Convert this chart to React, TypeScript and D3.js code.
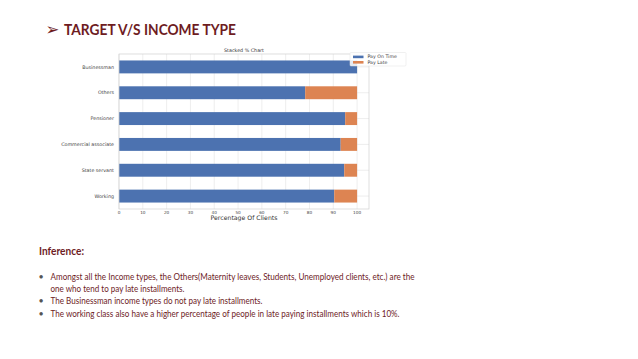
import React from 'react';
import * as d3 from 'd3';

// income types, top to bottom as drawn
const incomeTypes = ['Businessman', 'Others', 'Pensioner', 'Commercial associate', 'State servant', 'Working'];
const payOnTime = [100, 78.2, 95.0, 93.1, 94.6, 90.4];
const payLate = [0, 21.8, 5.0, 6.9, 5.4, 9.6];
const xTicks = [0, 10, 20, 30, 40, 50, 60, 70, 80, 90, 100];
const seriesNames = ['Pay On Time', 'Pay Late'];
const seriesColors = ['#4c72b0', '#dd8452'];

const bullets = [
  ['Amongst all the Income types, the Others(Maternity leaves, Students, Unemployed clients, etc.) are the',
    'one who tend to pay late installments.'],
  ['The Businessman income types do not pay late installments.'],
  ['The working class also have a higher percentage of people in late paying installments which is 10%.'],
];
// line widths in the slide (Calibri is narrower than the fonts we have)
const bulletWidths = [364, 134, 212, 349];

const W = 638;
const H = 359;
const plot = { left: 119, right: 369, top: 54, bottom: 209 };
const maroon = '#6e1c1f';
const mpl = "'DejaVu Sans', sans-serif";
const slideFont = "Lato, 'Open Sans', sans-serif";

export default function App() {
  const rows = incomeTypes.map((t, i) => ({ type: t, onTime: payOnTime[i], late: payLate[i] }));
  const stacked = d3.stack<any>().keys(['onTime', 'late'])(rows);

  const x = d3.scaleLinear().domain([0, 105]).range([plot.left, plot.right]);
  const y = d3.scaleBand().domain(incomeTypes).range([plot.top, plot.bottom]).paddingInner(0.5).paddingOuter(0.25);
  const band = d3.scaleBand().domain(incomeTypes).range([plot.top, plot.bottom]);

  let lineY = 279.5;
  const bulletLines: { text: string; y: number; first: boolean }[] = [];
  bullets.forEach((b) => {
    b.forEach((t, j) => {
      bulletLines.push({ text: t, y: lineY, first: j === 0 });
      lineY += 12.4;
    });
  });

  return (
    <svg width={W} height={H} style={{ position: 'absolute', left: 0, top: 0, background: '#fff' }}>
      {/* slide header */}
      <text x={45.5} y={35} fontFamily="'DejaVu Sans', sans-serif" fontSize={16.5} fill={maroon}>➢</text>
      <text x={64} y={34.5} fontFamily={slideFont} fontWeight="bold" fontSize={15.5} fill={maroon}
        textLength={172} lengthAdjust="spacingAndGlyphs">
        TARGET V/S INCOME TYPE
      </text>

      {/* chart */}
      <text x={(plot.left + plot.right) / 2} y={51.5} textAnchor="middle" fontFamily={mpl} fontSize={4.8} fill="#333">
        Stacked % Chart
      </text>
      {xTicks.map((t) => (
        <line key={'gx' + t} x1={x(t)} x2={x(t)} y1={plot.top} y2={plot.bottom} stroke="#e3e3e3" strokeWidth={0.6} />
      ))}
      {incomeTypes.map((c) => (
        <line key={'gy' + c} x1={plot.left} x2={plot.right} y1={band(c)! + band.bandwidth() / 2}
          y2={band(c)! + band.bandwidth() / 2} stroke="#e3e3e3" strokeWidth={0.6} />
      ))}
      {stacked.map((s, si) => (
        <g key={s.key} fill={seriesColors[si]}>
          {s.map((d: any, i: number) => (
            <rect key={i} x={x(d[0])} width={Math.max(0, x(d[1]) - x(d[0]))} y={y(incomeTypes[i])}
              height={y.bandwidth()} />
          ))}
        </g>
      ))}
      <rect x={plot.left} y={plot.top} width={plot.right - plot.left} height={plot.bottom - plot.top}
        fill="none" stroke="#d0d0d0" strokeWidth={0.7} />
      {incomeTypes.map((c) => (
        <text key={'yl' + c} x={plot.left - 5} y={band(c)! + band.bandwidth() / 2 + 1.7} textAnchor="end"
          fontFamily={mpl} fontSize={4.8} fill="#444">{c}</text>
      ))}
      {xTicks.map((t) => (
        <text key={'xl' + t} x={x(t)} y={plot.bottom + 4.8} textAnchor="middle" fontFamily={mpl} fontSize={4.2}
          fill="#444">{t}</text>
      ))}
      <text x={(plot.left + plot.right) / 2} y={plot.bottom + 11} textAnchor="middle" fontFamily={mpl}
        fontSize={6.2} fill="#333">Percentage Of Clients</text>

      {/* legend */}
      <g>
        <rect x={350} y={52.5} width={56} height={13.5} fill="#fff" fillOpacity={0.85} stroke="#e0e0e0" strokeWidth={0.5} rx={1} />
        {seriesNames.map((n, i) => (
          <g key={n}>
            <rect x={353} y={55.6 + i * 5.4} width={10.5} height={2.6} fill={seriesColors[i]} />
            <text x={367.5} y={58.3 + i * 5.4} fontFamily={mpl} fontSize={4.7} fill="#444">{n}</text>
          </g>
        ))}
      </g>

      {/* inference */}
      <text x={39} y={254.5} fontFamily={slideFont} fontWeight="bold" fontSize={10.5} fill={maroon}
        textLength={45} lengthAdjust="spacingAndGlyphs">Inference:</text>
      {bulletLines.map((l, i) => (
        <g key={i}>
          {l.first && <text x={38.5} y={l.y} fontFamily={slideFont} fontSize={9} fill="#555">•</text>}
          <text x={50.5} y={l.y} fontFamily={slideFont} fontSize={9} fill={maroon}
            textLength={bulletWidths[i]} lengthAdjust="spacingAndGlyphs">{l.text}</text>
        </g>
      ))}
    </svg>
  );
}
